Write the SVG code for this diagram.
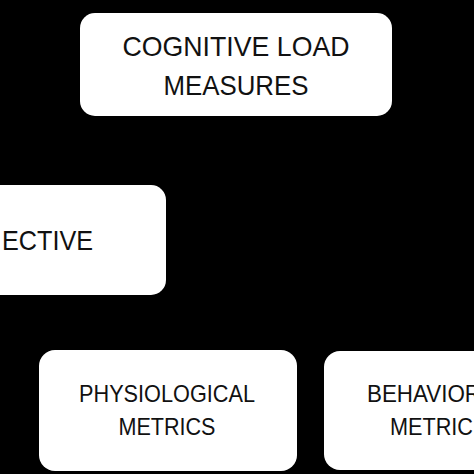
<svg xmlns="http://www.w3.org/2000/svg" width="474" height="474" viewBox="0 0 474 474">
<style>
.box{fill:#ffffff;stroke:none}
.t{font-family:"Liberation Sans",Arial,sans-serif;fill:#111111}
.big{font-size:28px}
.small{font-size:24px}
</style>
<rect x="0" y="0" width="474" height="474" fill="#000000"/>
<g id="connectors"></g>
<g id="node-top">
<rect class="box" x="80" y="13" width="312" height="103" rx="15"/>
<text class="t big" x="236" y="56" text-anchor="middle" textLength="227" lengthAdjust="spacingAndGlyphs">COGNITIVE LOAD</text>
<text class="t big" x="236" y="95" text-anchor="middle" textLength="145" lengthAdjust="spacingAndGlyphs">MEASURES</text>
</g>
<g id="node-subjective">
<rect class="box" x="-30" y="185" width="196" height="110" rx="15"/>
<text class="t big" x="2" y="250" textLength="91" lengthAdjust="spacingAndGlyphs">ECTIVE</text>
</g>
<g id="node-physiological">
<rect class="box" x="39" y="350" width="258" height="121" rx="16"/>
<text class="t small" x="167" y="402" text-anchor="middle" textLength="176" lengthAdjust="spacingAndGlyphs">PHYSIOLOGICAL</text>
<text class="t small" x="167" y="435" text-anchor="middle" textLength="97" lengthAdjust="spacingAndGlyphs">METRICS</text>
</g>
<g id="node-behavioral">
<rect class="box" x="324" y="351" width="180" height="119" rx="16"/>
<text class="t small" x="367" y="402" textLength="114" lengthAdjust="spacingAndGlyphs">BEHAVIOR</text>
<text class="t small" x="390" y="435" textLength="83" lengthAdjust="spacingAndGlyphs">METRIC</text>
</g>
</svg>
